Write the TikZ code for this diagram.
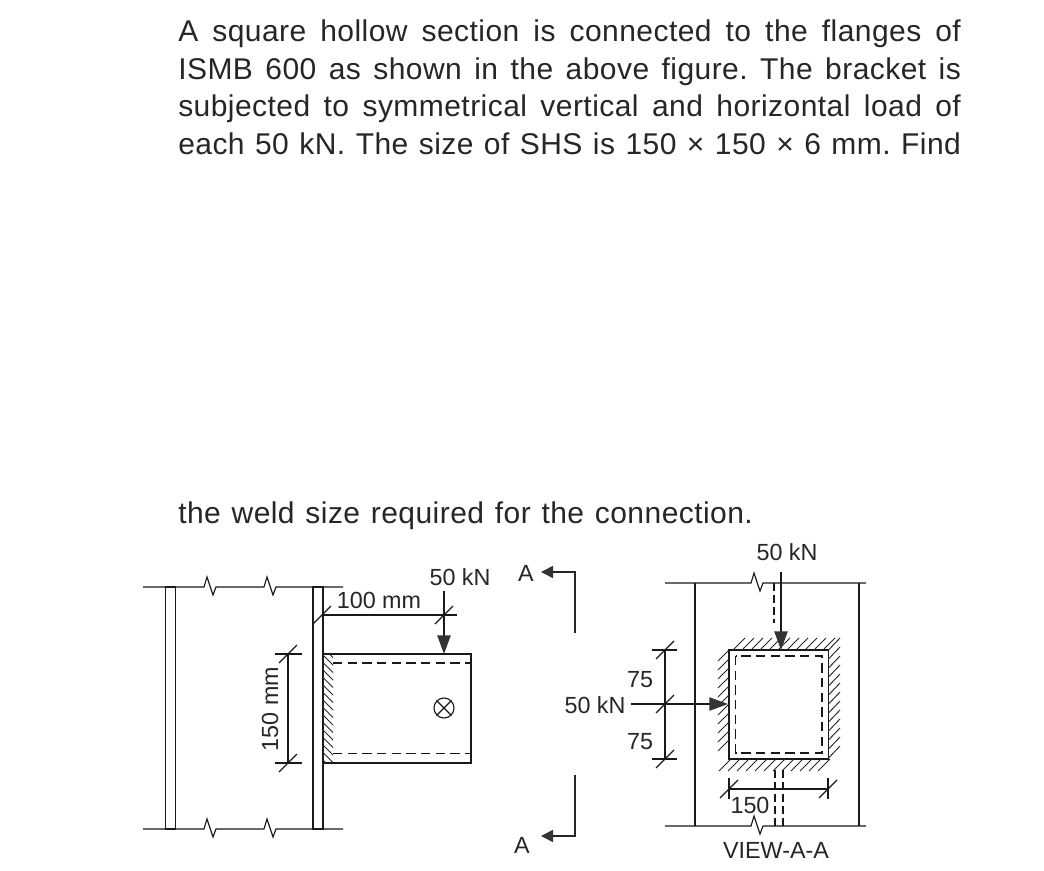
\documentclass[tikz,border=0pt]{standalone}
\usepackage{fontspec}
\setmainfont{Liberation Sans}
\usetikzlibrary{arrows.meta}
\frenchspacing
\newcommand{\dimtick}[1]{\draw[thinline] ([shift={(-9,9)}]#1) -- ([shift={(9,-9)}]#1);}
\newcommand{\brk}[1]{-- ++(#1,0) -- ++(3,-10) -- ++(6,18) -- ++(3,-8)}
\newcommand{\bodyline}[2]{\makebox[#1][s]{\addfontfeature{LetterSpace=1.5}#2}}
\begin{document}
\begin{tikzpicture}[
x=0.75pt,y=-0.75pt,
bodytext/.style={
  anchor=base west,
  inner sep=0pt,
  text=black!85,
  font=\fontsize{22.5}{26}\selectfont
  },
label/.style={
  inner sep=0pt,
  text=black!85,
  font=\fontsize{17.5}{21}\selectfont
  },
thinline/.style={
  line width=0.85pt,
  black!90
  },
outline/.style={
  line width=0.95pt,
  black!90
  },
hidden/.style={
  line width=1pt,
  black!90,
  dash pattern=on 7pt off 4pt
  },
hatch/.style={
  line width=0.7pt,
  black!85
  },
force/.style={
  line width=1pt,
  black!90,
  -{Triangle[length=14pt,width=10pt,black!80]}
  },
cut/.style={
  line width=1.2pt,
  black!85,
  -{Triangle[length=9pt,width=9pt,black!80]}
  }
]
\useasboundingbox (0,0) rectangle (1044,870);

\node[bodytext] (line1) at (178,42) {\bodyline{587pt}{A square hollow section is connected to the flanges of}};
\node[bodytext] (line2) at (178,80) {\bodyline{587pt}{ISMB 600 as shown in the above figure. The bracket is}};
\node[bodytext] (line3) at (178,117) {\bodyline{587pt}{subjected to symmetrical vertical and horizontal load of}};
\node[bodytext] (line4) at (178,154) {\bodyline{587pt}{each 50 kN. The size of SHS is 150 × 150 × 6 mm. Find}};
\node[bodytext] (line5) at (178,523) {\bodyline{431pt}{the weld size required for the connection.}};

\draw[thinline] (143,587) \brk{61} -- ++(48,0) \brk{0} -- (343,587);
\draw[thinline] (143,829) \brk{61} -- ++(48,0) \brk{0} -- (343,829);
\draw[outline] (165.5,587) rectangle (175.5,829);
\draw[outline] (313,587) rectangle (323,829);

\draw[outline] (323,654) rectangle (471,763);
\draw[hidden] (333,663) -- (471,663);
\draw[hidden] (333,753.5) -- (471,753.5);
\begin{scope}
\clip (323,654) rectangle (333,763);
\foreach \y in {640,647.5,...,770}
  \draw[hatch] (323,\y) -- (336,\y+13);
\end{scope}

\coordinate (dimatop) at (288,654);
\coordinate (dimabot) at (288,763);
\draw[thinline] (275,654) -- (302,654);
\draw[thinline] (275,763) -- (302,763);
\draw[thinline] (dimatop) -- (dimabot);
\dimtick{dimatop}
\dimtick{dimabot}
\node[label,rotate=90] (dimaval) at (270,709) {150 mm};

\coordinate (dimbl) at (322,615);
\coordinate (dimbr) at (444,615);
\draw[thinline] (dimbl) -- (457,615);
\dimtick{dimbl}
\dimtick{dimbr}
\node[label] (dimbval) at (379,600) {100 mm};

\coordinate (loadtop) at (444,591);
\coordinate (loadend) at (444,654);
\draw[force] (loadtop) -- (loadend);
\node[label] (loadval) at (460,577) {50 kN};

\node[draw,thinline,circle,minimum size=15pt,inner sep=0pt] (hole) at (444,708) {};
\draw[thinline] (hole.45) -- (hole.225);
\draw[thinline] (hole.135) -- (hole.315);

\coordinate (cutupa) at (575,633);
\coordinate (cutupb) at (575,572);
\coordinate (cutupc) at (541,572);
\coordinate (cutlowa) at (575,775);
\coordinate (cutlowb) at (575,836);
\coordinate (cutlowc) at (541,836);
\draw[cut] (cutupa) -- (cutupb) -- (cutupc);
\draw[cut] (cutlowa) -- (cutlowb) -- (cutlowc);
\node[label] (cutupval) at (526,573) {A};
\node[label] (cutlowval) at (522,845) {A};

\draw[thinline] (665,583) \brk{86} -- (866,583);
\draw[thinline] (665,826) \brk{86} -- (866,826);
\draw[thinline] (695,583) -- (695,826);
\draw[thinline] (859,583) -- (859,826);

\draw[outline] (729,650) rectangle (828.5,759);
\draw[hidden] (735.5,656) rectangle (822,753);
\foreach \x in {733,742,...,830}
  \draw[hatch] (\x,650) -- (\x+12,638);
\foreach \x in {731,740,...,830}
  \draw[hatch] (\x,759) -- (\x-12,771);
\foreach \y in {650,659,...,748}
  \draw[hatch] (729,\y) -- (718,\y+11);
\foreach \y in {650,659,...,758}
  \draw[hatch] (828.5,\y) -- (840,\y-12);

\draw[hidden,line width=0.8pt,dash pattern=on 6pt off 3pt] (774,583) -- (774,623);
\draw[hidden,line width=1.6pt,dash pattern=on 6pt off 3pt] (775,770) -- (775,826);
\draw[hidden,line width=0.8pt,dash pattern=on 6pt off 3pt] (783,770) -- (783,826);

\coordinate (viewtop) at (781,572);
\coordinate (viewend) at (781,650);
\draw[force] (viewtop) -- (viewend);
\node[label] (viewval) at (787,552) {50 kN};

\coordinate (sideout) at (631,704);
\coordinate (sideend) at (728,704);
\draw[force] (sideout) -- (sideend);
\node[label] (sideval) at (595,705) {50 kN};

\coordinate (dimctop) at (665,650);
\coordinate (dimcmid) at (665,704);
\coordinate (dimcbot) at (665,759);
\draw[thinline] (652,650) -- (677,650);
\draw[thinline] (652,759) -- (677,759);
\draw[thinline] (dimctop) -- (dimcbot);
\dimtick{dimctop}
\dimtick{dimcmid}
\dimtick{dimcbot}
\node[label] (dimcup) at (640,680) {75};
\node[label] (dimclow) at (640,742) {75};

\coordinate (dimdl) at (729,789);
\coordinate (dimdr) at (828,789);
\draw[thinline] (dimdl) -- (dimdr);
\draw[thinline] (729,778) -- (729,799);
\draw[thinline] (828,778) -- (828,799);
\dimtick{dimdl}
\dimtick{dimdr}
\node[label] (dimdval) at (750,805) {150};

\node[label] (viewname) at (776,850) {VIEW-A-A};
\end{tikzpicture}
\end{document}
